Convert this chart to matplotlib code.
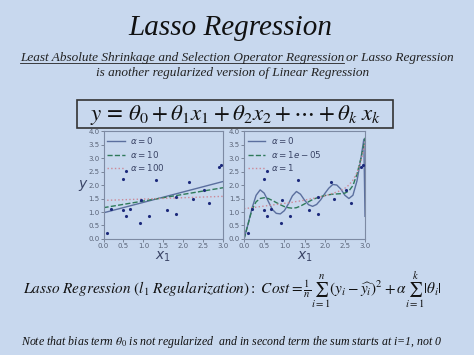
import numpy as np
from matplotlib import pyplot as plt
from matplotlib.patches import Rectangle
from matplotlib.font_manager import FontProperties

# scatter data
x_pts = [0.09, 0.19, 0.49, 0.57, 0.50, 0.57, 0.66, 0.91, 0.95, 1.14,
         1.33, 1.60, 1.83, 1.83, 2.15, 2.24, 2.53, 2.65, 2.91, 2.95]
y_pts = [0.23, 1.11, 2.21, 2.51, 1.06, 0.86, 1.10, 0.60, 1.43, 0.87,
         2.20, 1.06, 1.54, 0.94, 2.13, 1.49, 1.83, 1.35, 2.65, 2.73]

# left panel: straight lines (endpoints at x=0 and x=3)
line_x = [0.0, 3.0]
lin_a0 = [0.97, 2.13]
lin_a10 = [1.16, 1.90]
lin_a100 = [1.43, 1.58]
lin_labels = [r"$\alpha = 0$", r"$\alpha = 10$", r"$\alpha = 100$"]

# right panel: polynomial curves
poly_x = [0.0, 0.1, 0.2, 0.3, 0.4, 0.5, 0.6, 0.7, 0.8, 0.9, 1.0,
          1.1, 1.2, 1.3, 1.4, 1.5, 1.6, 1.7, 1.8, 1.9, 2.0,
          2.1, 2.2, 2.3, 2.4, 2.5, 2.6, 2.7, 2.8, 2.9, 2.97, 3.0]
poly_a0 = [0.0, 0.55, 1.15, 1.62, 1.82, 1.70, 1.40, 1.10, 0.95, 0.93, 1.05,
           1.30, 1.60, 1.76, 1.66, 1.44, 1.27, 1.21, 1.28, 1.45, 1.68,
           1.88, 2.02, 2.00, 1.85, 1.62, 1.50, 1.62, 2.15, 3.00, 3.70, 0.84]
poly_a1e5 = [0.0, 0.55, 1.10, 1.38, 1.50, 1.53, 1.50, 1.43, 1.35, 1.27, 1.20,
             1.16, 1.14, 1.16, 1.22, 1.30, 1.38, 1.46, 1.52, 1.57, 1.61,
             1.64, 1.66, 1.67, 1.68, 1.70, 1.78, 1.98, 2.40, 3.00, 3.50, 3.75]
poly_a1 = [1.12, 1.14, 1.16, 1.18, 1.20, 1.22, 1.24, 1.26, 1.28, 1.30, 1.32,
           1.34, 1.36, 1.39, 1.41, 1.44, 1.47, 1.50, 1.53, 1.56, 1.60,
           1.64, 1.69, 1.74, 1.80, 1.88, 2.00, 2.18, 2.45, 2.90, 3.30, 3.60]
poly_labels = [r"$\alpha = 0$", r"$\alpha = 1e-05$", r"$\alpha = 1$"]

bg = '#c8d8ee'
c_solid = '#5b6f9e'
c_dash = '#2f7a5a'
c_dot = '#cc8896'
c_pts = '#1c2a7c'
c_axis = '#7d8aa3'
c_tick = '#5a6478'
c_lab = '#3a4466'

plt.rcParams['mathtext.fontset'] = 'stix'

fig = plt.figure(figsize=(4.74, 3.55), dpi=100)
fig.patch.set_facecolor(bg)

ax1 = fig.add_axes([0.2184, 0.3268, 0.2521, 0.304])
ax2 = fig.add_axes([0.5148, 0.3268, 0.2553, 0.304])

sans_math = FontProperties(size=10, math_fontfamily='dejavusans')
leg_prop = FontProperties(size=6.3, math_fontfamily='dejavusans')

for ax in (ax1, ax2):
    ax.set_facecolor(bg)
    ax.plot(x_pts, y_pts, '.', color=c_pts, markersize=2.5, zorder=3)
    ax.set_xlim(0, 3)
    ax.set_ylim(0, 4)
    ax.set_xticks(np.arange(0, 3.01, 0.5))
    ax.set_yticks(np.arange(0, 4.01, 0.5))
    ax.tick_params(labelsize=5, colors=c_tick, length=2, width=0.5, pad=1)
    for s in ax.spines.values():
        s.set_color(c_axis)
        s.set_linewidth(0.8)
    ax.set_xlabel("$x_1$", fontproperties=sans_math, color=c_lab, labelpad=0)

ax1.plot(line_x, lin_a0, '-', color=c_solid, lw=1.0, label=lin_labels[0])
ax1.plot(line_x, lin_a10, '--', color=c_dash, lw=1.0, label=lin_labels[1])
ax1.plot(line_x, lin_a100, ':', color=c_dot, lw=1.0, label=lin_labels[2])
ax1.set_ylabel("$y$", fontproperties=sans_math, rotation=0, color=c_lab,
               ha='center', va='center')
ax1.yaxis.set_label_coords(-0.165, 0.5)

ax2.plot(poly_x, poly_a0, '-', color=c_solid, lw=1.0, label=poly_labels[0])
ax2.plot(poly_x, poly_a1e5, '--', color=c_dash, lw=1.0, label=poly_labels[1])
ax2.plot(poly_x, poly_a1, ':', color=c_dot, lw=1.0, label=poly_labels[2])

for ax in (ax1, ax2):
    leg = ax.legend(loc='upper left', prop=leg_prop, frameon=False,
                    handlelength=2.0, handletextpad=0.6, labelspacing=0.3,
                    borderaxespad=0.15, borderpad=0.3)
    for t in leg.get_texts():
        t.set_color(c_lab)

# slide texts
fig.text(0.485, 0.922, "Lasso Regression", family='Liberation Serif',
         style='italic', fontsize=21, ha='center', va='center', color='#111111')

renderer = fig.canvas.get_renderer()
sub_size = 9.5
t1 = fig.text(0.042, 0.838, "Least Absolute Shrinkage and Selection Operator Regression",
              family='Liberation Serif', style='italic', fontsize=sub_size,
              ha='left', va='center', color='#222222')
bb = t1.get_window_extent(renderer).transformed(fig.transFigure.inverted())
fig.text(bb.x1 + 0.003, 0.838, "or Lasso Regression", family='Liberation Serif',
         style='italic', fontsize=sub_size, ha='left', va='center', color='#222222')
fig.add_artist(plt.Line2D([bb.x0, bb.x1], [bb.y0 + 0.002, bb.y0 + 0.002],
                          color='#222222', lw=0.6, transform=fig.transFigure))
fig.text(0.49, 0.793, "is another regularized version of Linear Regression",
         family='Liberation Serif', style='italic', fontsize=sub_size,
         ha='center', va='center', color='#222222')

fig.add_artist(Rectangle((0.163, 0.640), 0.667, 0.078, transform=fig.transFigure,
                         fill=False, edgecolor='#333333', lw=1.2, zorder=5))
fig.text(0.497, 0.677,
         r"$y\, =\, \theta_0 + \theta_1 x_1 + \theta_2 x_2 + \cdots + \theta_k\ x_k$",
         fontsize=16.5, ha='center', va='center', color='#111111')

fig.text(0.49, 0.183,
         r"$Lasso\ Regression\ (l_1\ Regularization){:}\ Cost = \frac{1}{n}\sum_{i=1}^{n}(y_i - \widehat{y_i})^2 + \alpha\sum_{i=1}^{k}|\theta_i|$",
         fontsize=11, ha='center', va='center', color='#111111')

fig.text(0.488, 0.037,
         r"Note that bias term $\theta_0$ is not regularized  and in second term the sum starts at i=1, not 0",
         family='Liberation Serif', style='italic', fontsize=8.6,
         ha='center', va='center', color='#111111')

fig.savefig('out.png', dpi=100, facecolor=bg)
